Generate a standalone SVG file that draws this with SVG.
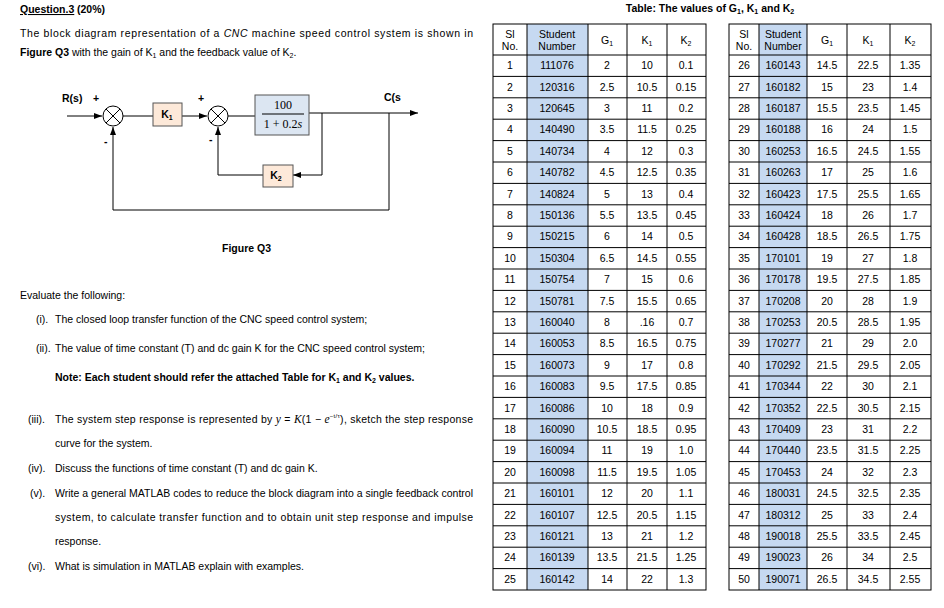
<svg xmlns="http://www.w3.org/2000/svg" width="944" height="608" viewBox="0 0 944 608">
<style>
text{font-family:"Liberation Sans",Arial,sans-serif;font-size:10.5px;fill:#000}
.b{font-weight:bold}
.m{font-family:"Liberation Serif","DejaVu Serif",serif;font-style:italic}
.c{text-anchor:middle}
.ln{stroke:#000;stroke-width:1;fill:none}
.g{stroke:#000;stroke-width:1}
.blk{stroke:#555;stroke-width:1}
.s{font-size:7px}
</style>
<defs>
<marker id="ar" viewBox="0 0 8 6" refX="8" refY="3" markerWidth="8" markerHeight="6" orient="auto" markerUnits="userSpaceOnUse"><path d="M0,0 L8,3 L0,6 z" fill="#000"/></marker>
</defs>
<rect width="944" height="608" fill="#fff"/>
<text x="20" y="13" class="b" text-decoration="underline">Question.3</text><text x="77" y="13" class="b">(20%)</text>
<text x="20" y="37" textLength="453" lengthAdjust="spacing">The block diagram representation of a <tspan font-style="italic">CNC</tspan> machine speed control system is shown in</text>
<text x="20" y="56"><tspan class="b">Figure Q3</tspan> with the gain of K<tspan class="s" dy="2">1</tspan><tspan dy="-2"> and the feedback value of K</tspan><tspan class="s" dy="2">2</tspan><tspan dy="-2">.</tspan></text>

<g id="connectors">
<path class="ln" d="M67,116 H102" marker-end="url(#ar)"/>
<path class="ln" d="M123,116 H153"/>
<path class="ln" d="M182,116 H207" marker-end="url(#ar)"/>
<path class="ln" d="M228,116 H255"/>
<path class="ln" d="M309,113 H418" marker-end="url(#ar)"/>
<path class="ln" d="M322,113 V175 H293" marker-end="url(#ar)"/>
<path class="ln" d="M263,175 H218 V127" marker-end="url(#ar)"/>
<path class="ln" d="M389,113 V210 H113 V127" marker-end="url(#ar)"/>
</g>
<g id="sum1"><circle cx="113" cy="116" r="10" fill="#fff" class="g"/><path class="ln" d="M106,109 L120,123 M120,109 L106,123"/></g>
<g id="sum2"><circle cx="218" cy="116" r="10" fill="#fff" class="g"/><path class="ln" d="M211,109 L225,123 M225,109 L211,123"/></g>
<g id="k1"><rect x="153" y="103" width="29" height="23" fill="#fde9d9" class="blk"/><text x="167" y="118" class="b c">K<tspan class="s" dy="2">1</tspan></text></g>
<g id="plant"><rect x="255" y="95" width="54" height="40" fill="#dce6f2" class="blk"/><text x="283" y="109" class="c" style="font-family:'Liberation Serif',serif;font-size:12px">100</text><path class="ln" d="M262,114 H304"/><text x="283" y="128" class="c" style="font-family:'Liberation Serif',serif;font-size:12px">1 + 0.2<tspan font-style="italic">s</tspan></text></g>
<g id="k2"><rect x="263" y="165" width="30" height="22" fill="#fde9d9" class="blk"/><text x="276" y="179" class="b c">K<tspan class="s" dy="2">2</tspan></text></g>
<text x="62" y="102" class="b">R(s)</text><text x="93" y="102" class="b">+</text>
<text x="198" y="102" class="b">+</text>
<text x="104" y="145" class="b">-</text><text x="209" y="143" class="b">-</text>
<text x="384" y="101" class="b">C(s</text>
<text x="222" y="252" class="b">Figure Q3</text>

<text x="20" y="299">Evaluate the following:</text>
<text x="36" y="323">(i).</text><text x="55" y="323">The closed loop transfer function of the CNC speed control system;</text>
<text x="36" y="352">(ii).</text><text x="55" y="352">The value of time constant (T) and dc gain K for the CNC speed control system;</text>
<text x="55" y="381" class="b">Note: Each student should refer the attached Table for K<tspan class="s" dy="2">1</tspan><tspan dy="-2"> and K</tspan><tspan class="s" dy="2">2</tspan><tspan dy="-2"> values.</tspan></text>
<text x="28" y="423">(iii).</text><text x="55" y="423" textLength="418" lengthAdjust="spacing">The system step response is represented by <tspan class="m" style="font-size:11.5px">y</tspan> = <tspan class="m" style="font-size:11.5px">K</tspan>(1 − <tspan class="m" style="font-size:11.5px">e</tspan><tspan dy="-5" style="font-size:6px">−t/τ</tspan><tspan dy="5">), sketch the step response</tspan></text>
<text x="55" y="447">curve for the system.</text>
<text x="28" y="472">(iv).</text><text x="55" y="472">Discuss the functions of time constant (T) and dc gain K.</text>
<text x="30" y="497">(v).</text><text x="55" y="497" textLength="418" lengthAdjust="spacing">Write a general MATLAB codes to reduce the block diagram into a single feedback control</text>
<text x="55" y="521" textLength="418" lengthAdjust="spacing">system, to calculate transfer function and to obtain unit step response and impulse</text>
<text x="55" y="545">response.</text>
<text x="28" y="570">(vi).</text><text x="55" y="570">What is simulation in MATLAB explain with examples.</text>

<text x="710" y="12" class="b c">Table: The values of G<tspan class="s" dy="2">1</tspan><tspan dy="-2">, K</tspan><tspan class="s" dy="2">1</tspan><tspan dy="-2"> and K</tspan><tspan class="s" dy="2">2</tspan></text>

<g id="tableL">
<rect x="527" y="24" width="61" height="566" fill="#c6d9f1"/>
<g class="g" fill="none"><rect x="493" y="24" width="213" height="566"/>
<path d="M527,24V590M588,24V590M627,24V590M667,24V590"/>
<path d="M493,55H706M493,76.4H706M493,97.8H706M493,119.2H706M493,140.6H706M493,162H706M493,183.4H706M493,204.8H706M493,226.2H706M493,247.6H706M493,269H706M493,290.4H706M493,311.8H706M493,333.2H706M493,354.6H706M493,376H706M493,397.4H706M493,418.8H706M493,440.2H706M493,461.6H706M493,483H706M493,504.4H706M493,525.8H706M493,547.2H706M493,568.6H706"/></g>
<text x="510" y="38" class="c">Sl</text><text x="510" y="50" class="c">No.</text>
<text x="557" y="38" class="c">Student</text><text x="557" y="50" class="c">Number</text>
<text x="607" y="44" class="c">G<tspan class="s" dy="2">1</tspan></text><text x="647" y="44" class="c">K<tspan class="s" dy="2">1</tspan></text><text x="686" y="44" class="c">K<tspan class="s" dy="2">2</tspan></text>
</g>
<g id="tableR">
<rect x="759" y="24" width="48" height="566" fill="#c6d9f1"/>
<g class="g" fill="none"><rect x="729" y="24" width="202" height="566"/>
<path d="M759,24V590M807,24V590M847,24V590M890,24V590"/>
<path d="M729,55H931M729,76.4H931M729,97.8H931M729,119.2H931M729,140.6H931M729,162H931M729,183.4H931M729,204.8H931M729,226.2H931M729,247.6H931M729,269H931M729,290.4H931M729,311.8H931M729,333.2H931M729,354.6H931M729,376H931M729,397.4H931M729,418.8H931M729,440.2H931M729,461.6H931M729,483H931M729,504.4H931M729,525.8H931M729,547.2H931M729,568.6H931"/></g>
<text x="744" y="38" class="c">Sl</text><text x="744" y="50" class="c">No.</text>
<text x="783" y="38" class="c">Student</text><text x="783" y="50" class="c">Number</text>
<text x="827" y="44" class="c">G<tspan class="s" dy="2">1</tspan></text><text x="868" y="44" class="c">K<tspan class="s" dy="2">1</tspan></text><text x="910" y="44" class="c">K<tspan class="s" dy="2">2</tspan></text>
</g>
<g id="dataL">
<text x="510" y="69.2" class="c">1</text><text x="557" y="69.2" class="c">111076</text><text x="607" y="69.2" class="c">2</text><text x="647" y="69.2" class="c">10</text><text x="686" y="69.2" class="c">0.1</text>
<text x="510" y="90.6" class="c">2</text><text x="557" y="90.6" class="c">120316</text><text x="607" y="90.6" class="c">2.5</text><text x="647" y="90.6" class="c">10.5</text><text x="686" y="90.6" class="c">0.15</text>
<text x="510" y="112" class="c">3</text><text x="557" y="112" class="c">120645</text><text x="607" y="112" class="c">3</text><text x="647" y="112" class="c">11</text><text x="686" y="112" class="c">0.2</text>
<text x="510" y="133.4" class="c">4</text><text x="557" y="133.4" class="c">140490</text><text x="607" y="133.4" class="c">3.5</text><text x="647" y="133.4" class="c">11.5</text><text x="686" y="133.4" class="c">0.25</text>
<text x="510" y="154.8" class="c">5</text><text x="557" y="154.8" class="c">140734</text><text x="607" y="154.8" class="c">4</text><text x="647" y="154.8" class="c">12</text><text x="686" y="154.8" class="c">0.3</text>
<text x="510" y="176.2" class="c">6</text><text x="557" y="176.2" class="c">140782</text><text x="607" y="176.2" class="c">4.5</text><text x="647" y="176.2" class="c">12.5</text><text x="686" y="176.2" class="c">0.35</text>
<text x="510" y="197.6" class="c">7</text><text x="557" y="197.6" class="c">140824</text><text x="607" y="197.6" class="c">5</text><text x="647" y="197.6" class="c">13</text><text x="686" y="197.6" class="c">0.4</text>
<text x="510" y="219" class="c">8</text><text x="557" y="219" class="c">150136</text><text x="607" y="219" class="c">5.5</text><text x="647" y="219" class="c">13.5</text><text x="686" y="219" class="c">0.45</text>
<text x="510" y="240.4" class="c">9</text><text x="557" y="240.4" class="c">150215</text><text x="607" y="240.4" class="c">6</text><text x="647" y="240.4" class="c">14</text><text x="686" y="240.4" class="c">0.5</text>
<text x="510" y="261.8" class="c">10</text><text x="557" y="261.8" class="c">150304</text><text x="607" y="261.8" class="c">6.5</text><text x="647" y="261.8" class="c">14.5</text><text x="686" y="261.8" class="c">0.55</text>
<text x="510" y="283.2" class="c">11</text><text x="557" y="283.2" class="c">150754</text><text x="607" y="283.2" class="c">7</text><text x="647" y="283.2" class="c">15</text><text x="686" y="283.2" class="c">0.6</text>
<text x="510" y="304.6" class="c">12</text><text x="557" y="304.6" class="c">150781</text><text x="607" y="304.6" class="c">7.5</text><text x="647" y="304.6" class="c">15.5</text><text x="686" y="304.6" class="c">0.65</text>
<text x="510" y="326" class="c">13</text><text x="557" y="326" class="c">160040</text><text x="607" y="326" class="c">8</text><text x="647" y="326" class="c">.16</text><text x="686" y="326" class="c">0.7</text>
<text x="510" y="347.4" class="c">14</text><text x="557" y="347.4" class="c">160053</text><text x="607" y="347.4" class="c">8.5</text><text x="647" y="347.4" class="c">16.5</text><text x="686" y="347.4" class="c">0.75</text>
<text x="510" y="368.8" class="c">15</text><text x="557" y="368.8" class="c">160073</text><text x="607" y="368.8" class="c">9</text><text x="647" y="368.8" class="c">17</text><text x="686" y="368.8" class="c">0.8</text>
<text x="510" y="390.2" class="c">16</text><text x="557" y="390.2" class="c">160083</text><text x="607" y="390.2" class="c">9.5</text><text x="647" y="390.2" class="c">17.5</text><text x="686" y="390.2" class="c">0.85</text>
<text x="510" y="411.6" class="c">17</text><text x="557" y="411.6" class="c">160086</text><text x="607" y="411.6" class="c">10</text><text x="647" y="411.6" class="c">18</text><text x="686" y="411.6" class="c">0.9</text>
<text x="510" y="433" class="c">18</text><text x="557" y="433" class="c">160090</text><text x="607" y="433" class="c">10.5</text><text x="647" y="433" class="c">18.5</text><text x="686" y="433" class="c">0.95</text>
<text x="510" y="454.4" class="c">19</text><text x="557" y="454.4" class="c">160094</text><text x="607" y="454.4" class="c">11</text><text x="647" y="454.4" class="c">19</text><text x="686" y="454.4" class="c">1.0</text>
<text x="510" y="475.8" class="c">20</text><text x="557" y="475.8" class="c">160098</text><text x="607" y="475.8" class="c">11.5</text><text x="647" y="475.8" class="c">19.5</text><text x="686" y="475.8" class="c">1.05</text>
<text x="510" y="497.2" class="c">21</text><text x="557" y="497.2" class="c">160101</text><text x="607" y="497.2" class="c">12</text><text x="647" y="497.2" class="c">20</text><text x="686" y="497.2" class="c">1.1</text>
<text x="510" y="518.6" class="c">22</text><text x="557" y="518.6" class="c">160107</text><text x="607" y="518.6" class="c">12.5</text><text x="647" y="518.6" class="c">20.5</text><text x="686" y="518.6" class="c">1.15</text>
<text x="510" y="540" class="c">23</text><text x="557" y="540" class="c">160121</text><text x="607" y="540" class="c">13</text><text x="647" y="540" class="c">21</text><text x="686" y="540" class="c">1.2</text>
<text x="510" y="561.4" class="c">24</text><text x="557" y="561.4" class="c">160139</text><text x="607" y="561.4" class="c">13.5</text><text x="647" y="561.4" class="c">21.5</text><text x="686" y="561.4" class="c">1.25</text>
<text x="510" y="582.8" class="c">25</text><text x="557" y="582.8" class="c">160142</text><text x="607" y="582.8" class="c">14</text><text x="647" y="582.8" class="c">22</text><text x="686" y="582.8" class="c">1.3</text>
</g>
<g id="dataR">
<text x="744" y="69.2" class="c">26</text><text x="783" y="69.2" class="c">160143</text><text x="827" y="69.2" class="c">14.5</text><text x="868" y="69.2" class="c">22.5</text><text x="910" y="69.2" class="c">1.35</text>
<text x="744" y="90.6" class="c">27</text><text x="783" y="90.6" class="c">160182</text><text x="827" y="90.6" class="c">15</text><text x="868" y="90.6" class="c">23</text><text x="910" y="90.6" class="c">1.4</text>
<text x="744" y="112" class="c">28</text><text x="783" y="112" class="c">160187</text><text x="827" y="112" class="c">15.5</text><text x="868" y="112" class="c">23.5</text><text x="910" y="112" class="c">1.45</text>
<text x="744" y="133.4" class="c">29</text><text x="783" y="133.4" class="c">160188</text><text x="827" y="133.4" class="c">16</text><text x="868" y="133.4" class="c">24</text><text x="910" y="133.4" class="c">1.5</text>
<text x="744" y="154.8" class="c">30</text><text x="783" y="154.8" class="c">160253</text><text x="827" y="154.8" class="c">16.5</text><text x="868" y="154.8" class="c">24.5</text><text x="910" y="154.8" class="c">1.55</text>
<text x="744" y="176.2" class="c">31</text><text x="783" y="176.2" class="c">160263</text><text x="827" y="176.2" class="c">17</text><text x="868" y="176.2" class="c">25</text><text x="910" y="176.2" class="c">1.6</text>
<text x="744" y="197.6" class="c">32</text><text x="783" y="197.6" class="c">160423</text><text x="827" y="197.6" class="c">17.5</text><text x="868" y="197.6" class="c">25.5</text><text x="910" y="197.6" class="c">1.65</text>
<text x="744" y="219" class="c">33</text><text x="783" y="219" class="c">160424</text><text x="827" y="219" class="c">18</text><text x="868" y="219" class="c">26</text><text x="910" y="219" class="c">1.7</text>
<text x="744" y="240.4" class="c">34</text><text x="783" y="240.4" class="c">160428</text><text x="827" y="240.4" class="c">18.5</text><text x="868" y="240.4" class="c">26.5</text><text x="910" y="240.4" class="c">1.75</text>
<text x="744" y="261.8" class="c">35</text><text x="783" y="261.8" class="c">170101</text><text x="827" y="261.8" class="c">19</text><text x="868" y="261.8" class="c">27</text><text x="910" y="261.8" class="c">1.8</text>
<text x="744" y="283.2" class="c">36</text><text x="783" y="283.2" class="c">170178</text><text x="827" y="283.2" class="c">19.5</text><text x="868" y="283.2" class="c">27.5</text><text x="910" y="283.2" class="c">1.85</text>
<text x="744" y="304.6" class="c">37</text><text x="783" y="304.6" class="c">170208</text><text x="827" y="304.6" class="c">20</text><text x="868" y="304.6" class="c">28</text><text x="910" y="304.6" class="c">1.9</text>
<text x="744" y="326" class="c">38</text><text x="783" y="326" class="c">170253</text><text x="827" y="326" class="c">20.5</text><text x="868" y="326" class="c">28.5</text><text x="910" y="326" class="c">1.95</text>
<text x="744" y="347.4" class="c">39</text><text x="783" y="347.4" class="c">170277</text><text x="827" y="347.4" class="c">21</text><text x="868" y="347.4" class="c">29</text><text x="910" y="347.4" class="c">2.0</text>
<text x="744" y="368.8" class="c">40</text><text x="783" y="368.8" class="c">170292</text><text x="827" y="368.8" class="c">21.5</text><text x="868" y="368.8" class="c">29.5</text><text x="910" y="368.8" class="c">2.05</text>
<text x="744" y="390.2" class="c">41</text><text x="783" y="390.2" class="c">170344</text><text x="827" y="390.2" class="c">22</text><text x="868" y="390.2" class="c">30</text><text x="910" y="390.2" class="c">2.1</text>
<text x="744" y="411.6" class="c">42</text><text x="783" y="411.6" class="c">170352</text><text x="827" y="411.6" class="c">22.5</text><text x="868" y="411.6" class="c">30.5</text><text x="910" y="411.6" class="c">2.15</text>
<text x="744" y="433" class="c">43</text><text x="783" y="433" class="c">170409</text><text x="827" y="433" class="c">23</text><text x="868" y="433" class="c">31</text><text x="910" y="433" class="c">2.2</text>
<text x="744" y="454.4" class="c">44</text><text x="783" y="454.4" class="c">170440</text><text x="827" y="454.4" class="c">23.5</text><text x="868" y="454.4" class="c">31.5</text><text x="910" y="454.4" class="c">2.25</text>
<text x="744" y="475.8" class="c">45</text><text x="783" y="475.8" class="c">170453</text><text x="827" y="475.8" class="c">24</text><text x="868" y="475.8" class="c">32</text><text x="910" y="475.8" class="c">2.3</text>
<text x="744" y="497.2" class="c">46</text><text x="783" y="497.2" class="c">180031</text><text x="827" y="497.2" class="c">24.5</text><text x="868" y="497.2" class="c">32.5</text><text x="910" y="497.2" class="c">2.35</text>
<text x="744" y="518.6" class="c">47</text><text x="783" y="518.6" class="c">180312</text><text x="827" y="518.6" class="c">25</text><text x="868" y="518.6" class="c">33</text><text x="910" y="518.6" class="c">2.4</text>
<text x="744" y="540" class="c">48</text><text x="783" y="540" class="c">190018</text><text x="827" y="540" class="c">25.5</text><text x="868" y="540" class="c">33.5</text><text x="910" y="540" class="c">2.45</text>
<text x="744" y="561.4" class="c">49</text><text x="783" y="561.4" class="c">190023</text><text x="827" y="561.4" class="c">26</text><text x="868" y="561.4" class="c">34</text><text x="910" y="561.4" class="c">2.5</text>
<text x="744" y="582.8" class="c">50</text><text x="783" y="582.8" class="c">190071</text><text x="827" y="582.8" class="c">26.5</text><text x="868" y="582.8" class="c">34.5</text><text x="910" y="582.8" class="c">2.55</text>
</g>
</svg>
